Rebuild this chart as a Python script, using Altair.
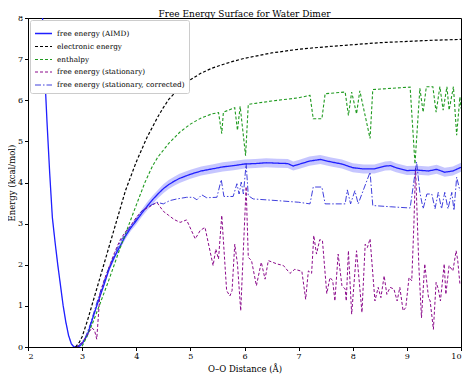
import altair as alt
import pandas as pd

# ---- data ----
chart_title = "Free Energy Surface for Water Dimer"

aimd_x = [2.26, 2.30, 2.35, 2.40, 2.45, 2.50, 2.55, 2.60, 2.65, 2.70, 2.75, 2.80, 2.85, 2.90,
          2.95, 3.00, 3.10, 3.20, 3.30, 3.40, 3.50, 3.60, 3.70, 3.80, 3.90, 4.00, 4.10, 4.20,
          4.30, 4.40, 4.50, 4.60, 4.70, 4.80, 5.00, 5.20, 5.40, 5.60, 5.80, 6.00, 6.20, 6.40,
          6.60, 6.80, 6.90, 7.00, 7.20, 7.40, 7.60, 7.80, 8.00, 8.20, 8.40, 8.60, 8.70, 8.80,
          9.00, 9.20, 9.40, 9.55, 9.70, 9.85, 10.0]
aimd_y = [8.3, 6.9, 5.5, 4.25, 3.15, 2.55, 2.0, 1.5, 1.0, 0.6, 0.28, 0.08, 0.0, 0.0,
          0.02, 0.08, 0.3, 0.72, 1.12, 1.5, 1.9, 2.2, 2.45, 2.7, 2.9, 3.07, 3.25, 3.42,
          3.58, 3.72, 3.85, 3.95, 4.03, 4.1, 4.2, 4.28, 4.33, 4.38, 4.41, 4.45, 4.46, 4.48,
          4.47, 4.46, 4.40, 4.44, 4.52, 4.56, 4.50, 4.45, 4.36, 4.33, 4.33, 4.40, 4.41, 4.36,
          4.29, 4.30, 4.28, 4.32, 4.25, 4.28, 4.37]
aimd_err = [0.03, 0.03, 0.03, 0.03, 0.03, 0.03, 0.03, 0.03, 0.03, 0.03, 0.03, 0.03, 0.03, 0.03,
            0.03, 0.04, 0.04, 0.05, 0.05, 0.06, 0.06, 0.07, 0.07, 0.08, 0.08, 0.09, 0.09, 0.1,
            0.1, 0.1, 0.11, 0.11, 0.11, 0.11, 0.11, 0.11, 0.11, 0.11, 0.11, 0.11, 0.11, 0.11,
            0.11, 0.11, 0.11, 0.11, 0.11, 0.11, 0.11, 0.11, 0.11, 0.11, 0.11, 0.11, 0.11, 0.11,
            0.11, 0.11, 0.11, 0.11, 0.11, 0.11, 0.11]

elec_x = [2.88, 2.95, 3.0, 3.1, 3.2, 3.3, 3.4, 3.5, 3.6, 3.7, 3.8, 3.9, 4.0, 4.1, 4.2, 4.3,
          4.4, 4.5, 4.6, 4.8, 5.0, 5.2, 5.4, 5.6, 5.8, 6.0, 6.5, 7.0, 7.5, 8.0, 8.5, 9.0, 9.5, 10.0]
elec_y = [0.0, 0.12, 0.25, 0.65, 1.1, 1.55, 2.0, 2.45, 2.9, 3.35, 3.8, 4.15, 4.5, 4.8, 5.1, 5.35,
          5.6, 5.82, 6.02, 6.3, 6.5, 6.66, 6.78, 6.87, 6.95, 7.02, 7.15, 7.24, 7.3, 7.35, 7.4,
          7.43, 7.46, 7.48]

enth_x = [3.0, 3.08, 3.2, 3.33, 3.5, 3.7, 3.9, 4.0, 4.16, 4.3, 4.4, 4.6, 4.81, 5.0, 5.2, 5.4,
          5.52, 5.58, 5.61, 5.82, 5.87, 5.92, 6.02, 6.07, 6.5, 7.0, 7.21, 7.27, 7.43, 7.49,
          7.86, 7.92, 7.98, 8.07, 8.13, 8.32, 8.37, 9.06, 9.15, 9.24, 9.3, 9.36, 9.48, 9.54,
          9.61, 9.67, 9.74, 9.78, 9.86, 9.92, 9.98, 10.0]
enth_y = [0.02, 0.23, 0.6, 1.05, 1.65, 2.4, 3.1, 3.45, 4.0, 4.4, 4.62, 4.95, 5.23, 5.42, 5.57,
          5.67, 5.70, 5.19, 5.71, 5.82, 5.27, 5.85, 4.65, 5.9, 5.98, 6.06, 6.12, 5.55, 5.55,
          6.16, 6.2, 5.63, 6.2, 5.67, 6.23, 5.07, 6.26, 6.32, 4.45, 6.29, 5.71, 6.33, 6.33,
          5.71, 6.33, 5.76, 6.33, 5.76, 6.33, 5.15, 6.08, 5.8]

stat_x = [2.9, 2.95, 3.0, 3.1, 3.18, 3.23, 3.27, 3.33, 3.4, 3.5, 3.6, 3.7, 3.8, 3.9, 4.0, 4.1,
          4.2, 4.3, 4.38, 4.5, 4.6, 4.7, 4.81, 4.93, 5.09, 5.18, 5.27, 5.42, 5.47, 5.52, 5.58,
          5.67, 5.73, 5.77, 5.82, 5.87, 5.93, 6.03, 6.07, 6.13, 6.22, 6.31, 6.38, 6.44, 6.6,
          6.72, 6.84, 6.93, 7.06, 7.13, 7.18, 7.24, 7.28, 7.33, 7.39, 7.44, 7.52, 7.58, 7.63,
          7.67, 7.73, 7.8, 7.86, 7.88, 7.92, 7.98, 8.07, 8.17, 8.23, 8.27, 8.32, 8.41, 8.47,
          8.52, 8.58, 8.63, 8.69, 8.76, 8.82, 8.87, 8.93, 8.98, 9.04, 9.09, 9.13, 9.16, 9.19,
          9.22, 9.27, 9.33, 9.4, 9.43, 9.49, 9.54, 9.58, 9.62, 9.69, 9.72, 9.78, 9.85, 9.91,
          9.94, 9.98]
stat_y = [0.0, 0.05, 0.1, 0.3, 0.47, 0.4, 0.19, 1.3, 1.6, 1.95, 2.3, 2.6, 2.8, 2.95, 3.15, 3.3,
          3.38, 3.45, 3.52, 3.3, 3.2, 3.1, 3.03, 3.09, 2.63, 2.83, 2.91, 1.98, 2.38, 2.14, 3.2,
          1.37, 1.24, 1.37, 2.5, 2.02, 0.88, 3.9, 2.18, 2.1, 1.49, 2.06, 1.65, 2.1, 2.02,
          1.98, 1.79, 1.89, 1.84, 1.16, 1.85, 1.79, 2.71, 2.26, 2.61, 2.59, 1.3, 1.69, 1.61,
          1.12, 2.26, 1.49, 1.41, 1.12, 2.34, 0.8, 2.34, 0.84, 2.5, 2.42, 2.63, 1.12, 1.45,
          1.2, 1.73, 1.28, 1.45, 1.41, 1.12, 1.45, 0.88, 0.96, 1.69, 1.61, 3.0, 4.35, 3.2,
          2.0, 0.71, 2.02, 1.2, 1.12, 0.43, 1.57, 1.41, 1.12, 2.02, 1.28, 1.98, 1.85, 2.34,
          2.1, 1.53]

corr_x = [2.92, 2.96, 3.05, 3.15, 3.3, 3.5, 3.7, 3.9, 3.98, 4.1, 4.2, 4.38, 4.5, 4.62, 4.75,
          4.93, 5.05, 5.12, 5.21, 5.3, 5.49, 5.57, 5.62, 5.79, 5.86, 5.9, 5.94, 5.98, 6.03,
          6.07, 6.16, 6.6, 7.0, 7.21, 7.27, 7.43, 7.49, 7.86, 7.9, 7.96, 8.04, 8.1, 8.32, 8.37,
          8.7, 9.06, 9.18, 9.24, 9.3, 9.37, 9.46, 9.52, 9.58, 9.64, 9.7, 9.76, 9.83, 9.87,
          9.92, 9.98]
corr_y = [0.0, 0.07, 0.2, 0.55, 1.2, 1.95, 2.55, 2.95, 3.07, 3.3, 3.4, 3.52, 3.48, 3.56, 3.6,
          3.64, 3.64, 3.58, 3.7, 3.63, 3.64, 4.07, 3.66, 3.66, 3.97, 3.72, 4.01, 3.72, 4.46,
          3.68, 3.6, 3.56, 3.52, 3.48, 3.89, 3.89, 3.48, 3.48, 3.82, 3.48, 3.8, 3.48, 4.25,
          3.44, 3.41, 3.38, 4.5, 3.76, 3.36, 3.72, 3.72, 3.36, 3.76, 3.36, 3.76, 3.36, 3.76,
          3.32, 4.13, 3.8]

series_names = ["free energy (AIMD)", "electronic energy", "enthalpy",
                "free energy (stationary)", "free energy (stationary, corrected)"]
series_colors = ["#1f1fff", "#000000", "#1f9a1f", "#8b0a8b", "#2a2ad8"]
series_dashes = [[1, 0], [3, 2], [3, 2], [3, 2], [6, 2, 1.5, 2]]
series_widths = [1.3, 0.9, 0.9, 0.9, 0.9]

rows = []
for name, xs, ys in [(series_names[0], aimd_x, aimd_y), (series_names[1], elec_x, elec_y),
                     (series_names[2], enth_x, enth_y), (series_names[3], stat_x, stat_y),
                     (series_names[4], corr_x, corr_y)]:
    for i, (a, b) in enumerate(zip(xs, ys)):
        rows.append({"series": name, "x": a, "y": b, "i": i})
df = pd.DataFrame(rows)

band = pd.DataFrame({"x": aimd_x,
                     "lo": [a - e for a, e in zip(aimd_y, aimd_err)],
                     "hi": [a + e for a, e in zip(aimd_y, aimd_err)]})

FONT = "DejaVu Serif"
W, H = 433, 329
xs = alt.Scale(domain=[2, 10], nice=False)
ys = alt.Scale(domain=[0, 8], nice=False)

band_layer = alt.Chart(band).mark_area(color="#8080ff", opacity=0.45, clip=True).encode(
    x=alt.X("x:Q", scale=xs),
    y=alt.Y("lo:Q", scale=ys),
    y2="hi:Q",
)

legend = alt.Legend(title=None, orient="top-left", offset=2, padding=4,
                    symbolType="stroke", symbolSize=289, symbolStrokeWidth=1.2,
                    labelFont=FONT, labelFontSize=7.3, labelColor="black",
                    rowPadding=0, strokeColor="#cccccc", fillColor="white",
                    cornerRadius=2, labelLimit=300)

lines = alt.Chart(df).mark_line(clip=True).encode(
    x=alt.X("x:Q", scale=xs, title="O–O Distance (Å)",
            axis=alt.Axis(values=[2, 3, 4, 5, 6, 7, 8, 9, 10], format="d")),
    y=alt.Y("y:Q", scale=ys, title="Energy (kcal/mol)",
            axis=alt.Axis(values=[0, 1, 2, 3, 4, 5, 6, 7, 8], format="d",
                          titleX=-12, titleY=H / 2, titleBaseline="bottom",
                          titleAngle=270, titleAlign="center")),
    color=alt.Color("series:N", scale=alt.Scale(domain=series_names, range=series_colors),
                    legend=legend),
    strokeDash=alt.StrokeDash("series:N",
                              scale=alt.Scale(domain=series_names, range=series_dashes),
                              legend=legend),
    strokeWidth=alt.StrokeWidth("series:N",
                                scale=alt.Scale(domain=series_names, range=series_widths),
                                legend=None),
    order="i:Q",
)

title_layer = alt.Chart(pd.DataFrame({"t": [chart_title]})).mark_text(
    font=FONT, fontSize=9, color="black", baseline="alphabetic", align="center"
).encode(x=alt.value(W / 2), y=alt.value(-1.5), text="t:N")

chart = alt.layer(band_layer, lines, title_layer).properties(
    width=W, height=H,
    padding={"left": 20, "top": 10, "right": 5, "bottom": 30},
    autosize=alt.AutoSizeParams(type="none"),
).configure_view(stroke="black", strokeWidth=1).configure_axis(
    grid=False, domainColor="black", domainWidth=1, tickColor="black", tickSize=3.5,
    labelFont=FONT, labelFontSize=8, labelColor="black", labelPadding=2,
    titleFont=FONT, titleFontSize=8.5, titleFontWeight="normal", titleColor="black",
).configure_axisX(titlePadding=4)

chart.save("out.html", embed_options={"renderer": "svg", "actions": False})
